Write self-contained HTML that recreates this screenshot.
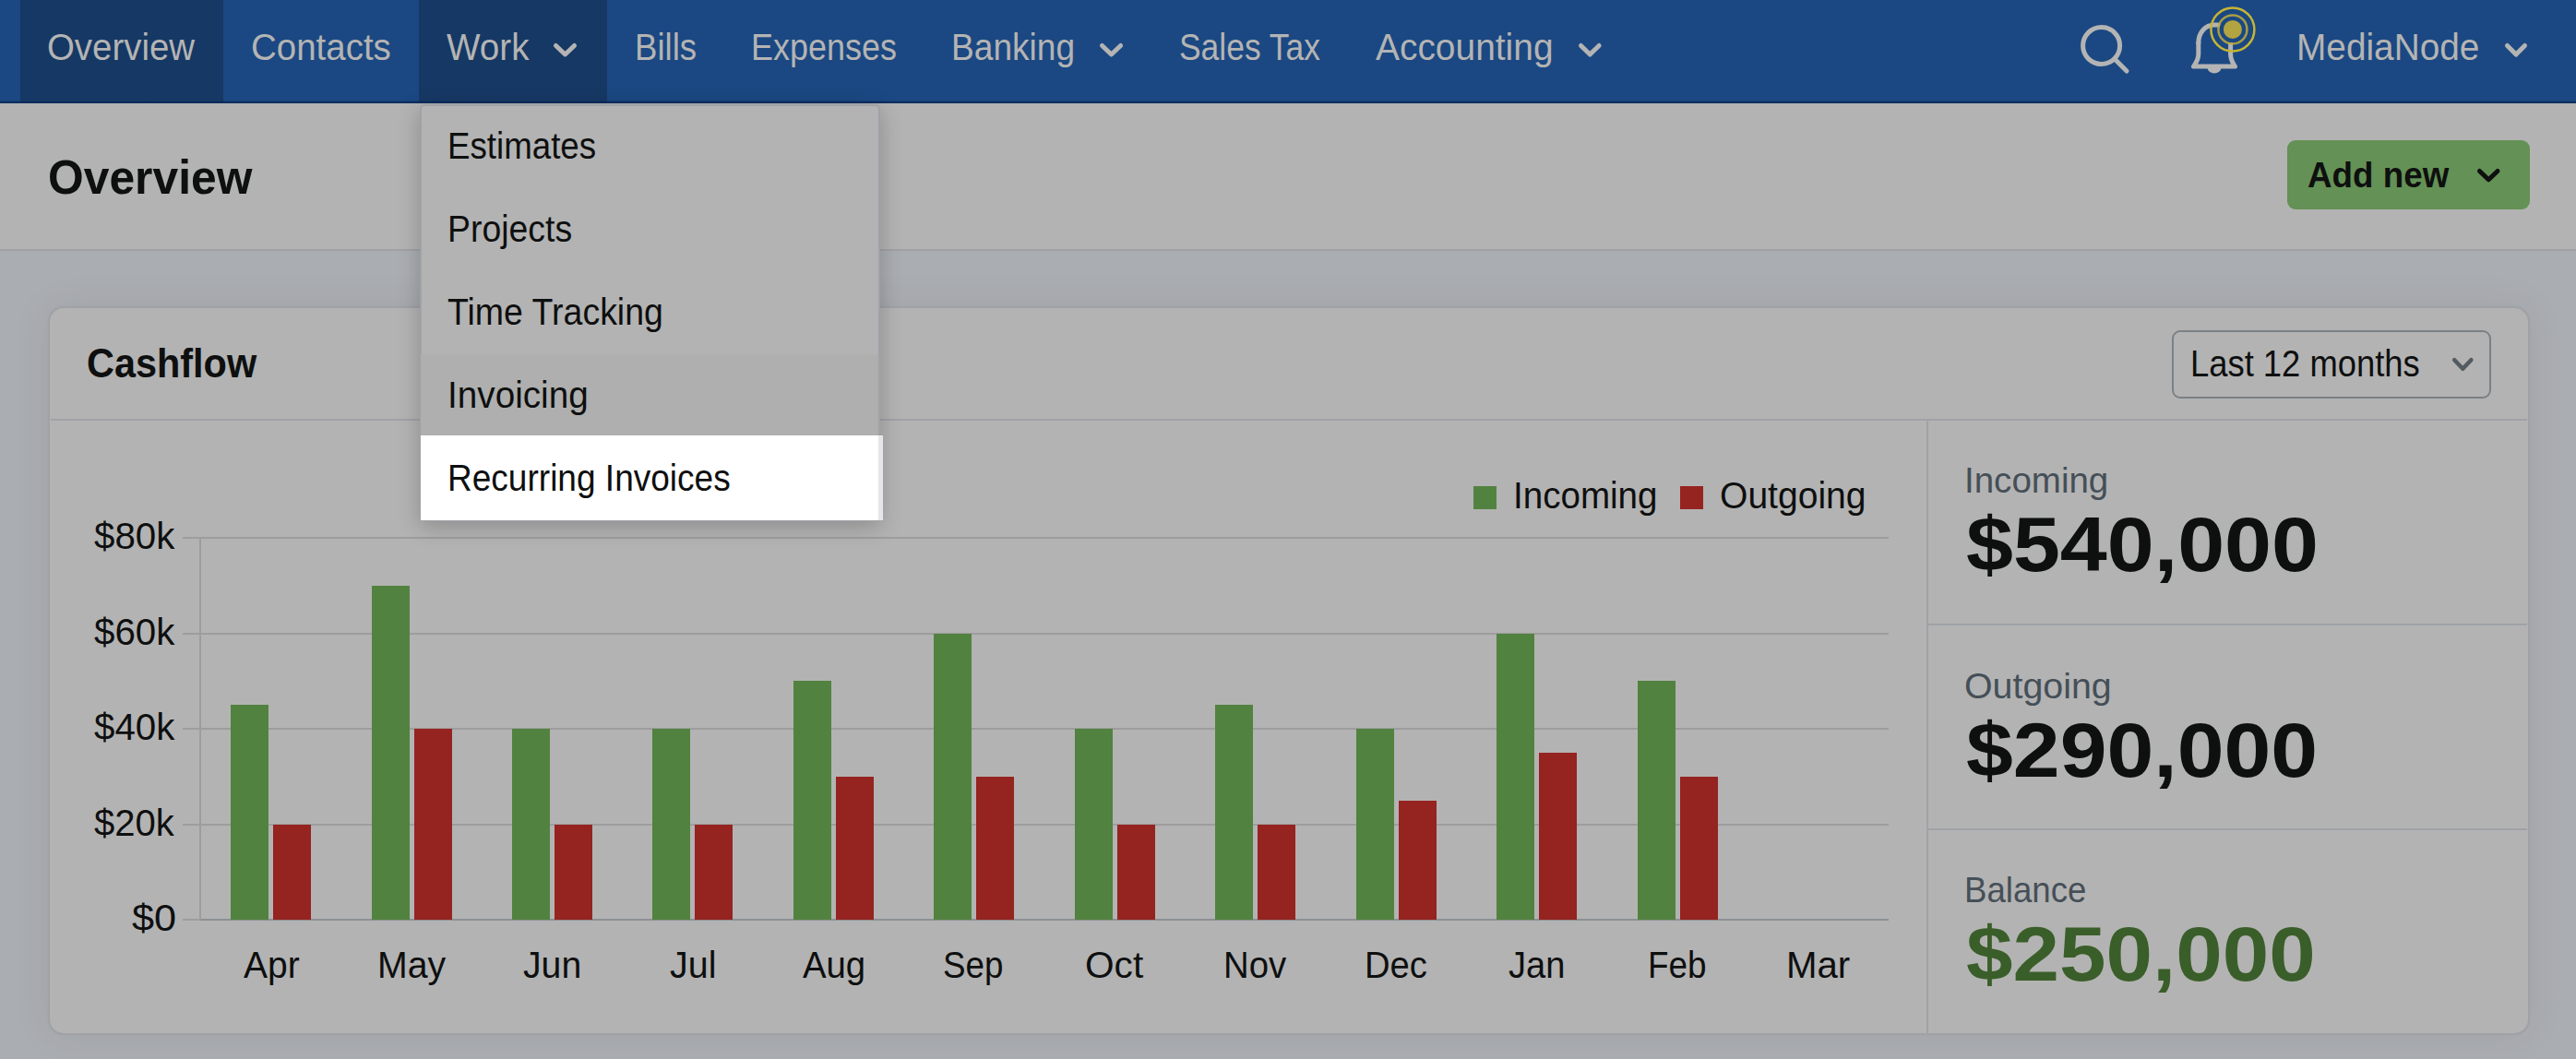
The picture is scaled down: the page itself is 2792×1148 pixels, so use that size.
<!DOCTYPE html>
<html><head><meta charset="utf-8"><title>Overview</title>
<style>
html,body{margin:0;padding:0}
body{width:2792px;height:1148px;overflow:hidden;position:relative;background:#aaadb2;font-family:'Liberation Sans',Arial,sans-serif}
.t{position:absolute;white-space:nowrap;transform-origin:0 0}
.abs{position:absolute}
</style></head><body>
<!-- nav -->
<div class="abs" style="left:0;top:0;width:2792px;height:112px;background:#1b4882"></div>
<div class="abs" style="left:22px;top:0;width:220px;height:112px;background:#163864"></div>
<div class="abs" style="left:454px;top:0;width:204px;height:112px;background:#163864"></div>
<div class="abs" style="left:0;top:108.5px;width:2792px;height:3.5px;background:linear-gradient(rgba(8,40,90,0) 0%,rgba(8,40,90,0.75) 45%,#082a5c 100%)"></div>
<!-- header -->
<div class="abs" style="left:0;top:112px;width:2792px;height:158px;background:#b3b3b3"></div>
<div class="abs" style="left:0;top:270px;width:2792px;height:2px;background:#a0a1a3"></div>
<div class="abs" style="left:2479px;top:152px;width:263px;height:75px;border-radius:9px;background:#649155"></div>
<!-- card -->
<div class="abs" style="left:52px;top:332.4px;width:2686px;height:785.2px;border:2px solid #a0a2a6;border-radius:17px;background:#b3b3b3;box-shadow:0 0 2px rgba(0,0,0,0.04),0 0 44px 2px rgba(0,0,0,0.055)"></div>
<div class="abs" style="left:55px;top:454px;width:2684px;height:2px;background:#a0a2a6"></div>
<div class="abs" style="left:2088px;top:455px;width:2px;height:665px;background:#a0a2a6"></div>
<div class="abs" style="left:2089px;top:676px;width:650px;height:2px;background:#a0a2a6"></div>
<div class="abs" style="left:2089px;top:898px;width:650px;height:2px;background:#a0a2a6"></div>
<div class="abs" style="left:2353.5px;top:357.5px;width:342px;height:70px;border:2px solid #7a8186;border-radius:9px"></div>
<!-- chart -->
<div style="position:absolute;left:197.5px;top:582.0px;width:1849.0px;height:2px;background:#9d9d9d"></div><div style="position:absolute;left:197.5px;top:685.5px;width:1849.0px;height:2px;background:#9d9d9d"></div><div style="position:absolute;left:197.5px;top:789.0px;width:1849.0px;height:2px;background:#9d9d9d"></div><div style="position:absolute;left:197.5px;top:892.5px;width:1849.0px;height:2px;background:#9d9d9d"></div><div style="position:absolute;left:197.5px;top:996px;width:19px;height:2px;background:#9d9d9d"></div><div style="position:absolute;left:216.5px;top:996px;width:1830.0px;height:2px;background:#8d9093"></div><div style="position:absolute;left:216.2px;top:582px;width:2px;height:415px;background:#9d9d9d"></div>
<div style="position:absolute;left:250.0px;top:764.1px;width:41px;height:232.9px;background:#52823f"></div><div style="position:absolute;left:296.0px;top:893.5px;width:41px;height:103.5px;background:#952320"></div><div style="position:absolute;left:402.5px;top:634.8px;width:41px;height:362.2px;background:#52823f"></div><div style="position:absolute;left:448.5px;top:790.0px;width:41px;height:207.0px;background:#952320"></div><div style="position:absolute;left:554.9px;top:790.0px;width:41px;height:207.0px;background:#52823f"></div><div style="position:absolute;left:600.9px;top:893.5px;width:41px;height:103.5px;background:#952320"></div><div style="position:absolute;left:707.4px;top:790.0px;width:41px;height:207.0px;background:#52823f"></div><div style="position:absolute;left:753.4px;top:893.5px;width:41px;height:103.5px;background:#952320"></div><div style="position:absolute;left:859.9px;top:738.2px;width:41px;height:258.8px;background:#52823f"></div><div style="position:absolute;left:905.9px;top:841.8px;width:41px;height:155.2px;background:#952320"></div><div style="position:absolute;left:1012.4px;top:686.5px;width:41px;height:310.5px;background:#52823f"></div><div style="position:absolute;left:1058.3px;top:841.8px;width:41px;height:155.2px;background:#952320"></div><div style="position:absolute;left:1164.8px;top:790.0px;width:41px;height:207.0px;background:#52823f"></div><div style="position:absolute;left:1210.8px;top:893.5px;width:41px;height:103.5px;background:#952320"></div><div style="position:absolute;left:1317.3px;top:764.1px;width:41px;height:232.9px;background:#52823f"></div><div style="position:absolute;left:1363.3px;top:893.5px;width:41px;height:103.5px;background:#952320"></div><div style="position:absolute;left:1469.8px;top:790.0px;width:41px;height:207.0px;background:#52823f"></div><div style="position:absolute;left:1515.8px;top:867.6px;width:41px;height:129.4px;background:#952320"></div><div style="position:absolute;left:1622.2px;top:686.5px;width:41px;height:310.5px;background:#52823f"></div><div style="position:absolute;left:1668.2px;top:815.9px;width:41px;height:181.1px;background:#952320"></div><div style="position:absolute;left:1774.7px;top:738.2px;width:41px;height:258.8px;background:#52823f"></div><div style="position:absolute;left:1820.7px;top:841.8px;width:41px;height:155.2px;background:#952320"></div>
<div class="abs" style="left:1597px;top:527px;width:25px;height:25px;background:#52823f"></div>
<div class="abs" style="left:1820.5px;top:527px;width:25px;height:25px;background:#952320"></div>
<!-- dropdown -->
<div class="abs" style="left:454.5px;top:113px;width:495.1px;height:448px;border:2px solid #a0a2a7;border-radius:5px;background:#b3b3b3;box-shadow:0 6px 24px rgba(0,0,0,0.22)"></div>
<div class="abs" style="left:456px;top:384px;width:496px;height:88px;background:#aeafae"></div>
<div class="abs" style="left:456px;top:472px;width:501px;height:92px;background:#e5e6ea"></div>
<div class="abs" style="left:456px;top:472px;width:495.6px;height:92px;background:#ffffff"></div>
<!-- icons -->
<svg class="abs" style="left:0;top:0" width="2792" height="112">
 <circle cx="2277.6" cy="49.5" r="20" fill="none" stroke="#b4b4b4" stroke-width="5"/>
 <line x1="2292" y1="64" x2="2305" y2="77" stroke="#b4b4b4" stroke-width="5" stroke-linecap="round"/>
 <path d="M2382.8 46.5 C2382.8 35 2390.5 27.1 2400 27.1 L2403.8 27.1" fill="none" stroke="#b4b4b4" stroke-width="5" stroke-linecap="round"/>
 <path d="M2382.8 45 L2382.8 59 C2382.8 64 2380 68.5 2377.5 72.1 L2422.5 72.1 C2420 68.5 2417.6 64 2417.6 59 L2417.6 46.3" fill="none" stroke="#b4b4b4" stroke-width="5" stroke-linejoin="round"/>
 <path d="M2392.7 74 A7.3 5.4 0 0 0 2407.3 74 Z" fill="#b4b4b4"/>
 <circle cx="2419.9" cy="31.9" r="10" fill="#b2a441"/>
 <circle cx="2419.9" cy="31.9" r="15.5" fill="none" stroke="#bfad3c" stroke-opacity="0.85" stroke-width="2.5"/>
 <circle cx="2419.9" cy="31.9" r="23.5" fill="none" stroke="#c6b435" stroke-width="2.5"/>
</svg>
<svg style="position:absolute;left:600.4px;top:47.2px;overflow:visible" width="25.0" height="14.5"><polyline points="2.5,2.5 12.5,12.0 22.5,2.5" fill="none" stroke="#b4b4b4" stroke-width="5" stroke-linecap="round" stroke-linejoin="round"/></svg>
<svg style="position:absolute;left:1191.8px;top:47.2px;overflow:visible" width="25.100000000000136" height="14.5"><polyline points="2.5,2.5 12.550000000000068,12.0 22.600000000000136,2.5" fill="none" stroke="#b4b4b4" stroke-width="5" stroke-linecap="round" stroke-linejoin="round"/></svg>
<svg style="position:absolute;left:1711px;top:47.2px;overflow:visible" width="24.59999999999991" height="14.5"><polyline points="2.5,2.5 12.299999999999955,12.0 22.09999999999991,2.5" fill="none" stroke="#b4b4b4" stroke-width="5" stroke-linecap="round" stroke-linejoin="round"/></svg>
<svg style="position:absolute;left:2715px;top:47px;overflow:visible" width="24" height="14.600000000000001"><polyline points="2.5,2.5 12.0,12.100000000000001 21.5,2.5" fill="none" stroke="#b4b4b4" stroke-width="5" stroke-linecap="round" stroke-linejoin="round"/></svg>
<svg style="position:absolute;left:2685px;top:182.7px;overflow:visible" width="24.5" height="14.300000000000011"><polyline points="2.5,2.5 12.25,11.800000000000011 22.0,2.5" fill="none" stroke="#0e0f0f" stroke-width="5" stroke-linecap="round" stroke-linejoin="round"/></svg>
<svg style="position:absolute;left:2658px;top:387.6px;overflow:visible" width="22.59999999999991" height="14.0"><polyline points="2.25,2.25 11.299999999999955,11.75 20.34999999999991,2.25" fill="none" stroke="#535b61" stroke-width="4.5" stroke-linecap="round" stroke-linejoin="round"/></svg>
<!-- texts -->
<div class="t" style="left:51.18px;top:31.44px;font-size:40px;line-height:40px;font-weight:400;color:#b4b4b4;transform:scaleX(0.9600)">Overview</div>
<div class="t" style="left:271.98px;top:31.44px;font-size:40px;line-height:40px;font-weight:400;color:#b4b4b4;transform:scaleX(0.9617)">Contacts</div>
<div class="t" style="left:484.00px;top:31.44px;font-size:40px;line-height:40px;font-weight:400;color:#b4b4b4;transform:scaleX(0.9674)">Work</div>
<div class="t" style="left:687.66px;top:31.44px;font-size:40px;line-height:40px;font-weight:400;color:#b4b4b4;transform:scaleX(0.9145)">Bills</div>
<div class="t" style="left:814.00px;top:31.44px;font-size:40px;line-height:40px;font-weight:400;color:#b4b4b4;transform:scaleX(0.8988)">Expenses</div>
<div class="t" style="left:1030.52px;top:31.44px;font-size:40px;line-height:40px;font-weight:400;color:#b4b4b4;transform:scaleX(0.9281)">Banking</div>
<div class="t" style="left:1277.93px;top:31.44px;font-size:40px;line-height:40px;font-weight:400;color:#b4b4b4;transform:scaleX(0.8853)">Sales Tax</div>
<div class="t" style="left:1491.30px;top:31.44px;font-size:40px;line-height:40px;font-weight:400;color:#b4b4b4;transform:scaleX(0.9728)">Accounting</div>
<div class="t" style="left:2489.09px;top:31.44px;font-size:40px;line-height:40px;font-weight:400;color:#b4b4b4;transform:scaleX(0.9700)">MediaNode</div>
<div class="t" style="left:51.99px;top:165.78px;font-size:52px;line-height:52px;font-weight:700;color:#0e0f0f;transform:scaleX(0.9572)">Overview</div>
<div class="t" style="left:2501.03px;top:171.13px;font-size:38px;line-height:38px;font-weight:700;color:#0e0f0f;transform:scaleX(0.9682)">Add new</div>
<div class="t" style="left:485.35px;top:138.44px;font-size:40px;line-height:40px;font-weight:400;color:#0e0f0f;transform:scaleX(0.9175)">Estimates</div>
<div class="t" style="left:485.30px;top:227.94px;font-size:40px;line-height:40px;font-weight:400;color:#0e0f0f;transform:scaleX(0.9350)">Projects</div>
<div class="t" style="left:485.36px;top:318.34px;font-size:40px;line-height:40px;font-weight:400;color:#0e0f0f;transform:scaleX(0.9366)">Time Tracking</div>
<div class="t" style="left:484.63px;top:407.74px;font-size:40px;line-height:40px;font-weight:400;color:#0e0f0f;transform:scaleX(0.9675)">Invoicing</div>
<div class="t" style="left:485.42px;top:498.34px;font-size:40px;line-height:40px;font-weight:400;color:#0e0f0f;transform:scaleX(0.9260)">Recurring Invoices</div>
<div class="t" style="left:93.56px;top:370.81px;font-size:45px;line-height:45px;font-weight:700;color:#0e0f0f;transform:scaleX(0.9207)">Cashflow</div>
<div class="t" style="left:2373.87px;top:373.74px;font-size:40px;line-height:40px;font-weight:400;color:#0e0f0f;transform:scaleX(0.9093)">Last 12 months</div>
<div class="t" style="left:101.79px;top:561.14px;font-size:40px;line-height:40px;font-weight:400;color:#0e0f0f;transform:scaleX(1.0070)">$80k</div>
<div class="t" style="left:101.79px;top:664.64px;font-size:40px;line-height:40px;font-weight:400;color:#0e0f0f;transform:scaleX(1.0070)">$60k</div>
<div class="t" style="left:101.79px;top:768.14px;font-size:40px;line-height:40px;font-weight:400;color:#0e0f0f;transform:scaleX(1.0070)">$40k</div>
<div class="t" style="left:102.30px;top:871.64px;font-size:40px;line-height:40px;font-weight:400;color:#0e0f0f;transform:scaleX(1.0012)">$20k</div>
<div class="t" style="left:142.92px;top:975.14px;font-size:40px;line-height:40px;font-weight:400;color:#0e0f0f;transform:scaleX(1.0810)">$0</div>
<div class="t" style="left:263.70px;top:1025.54px;font-size:40px;line-height:40px;font-weight:400;color:#0e0f0f;transform:scaleX(0.9758)">Apr</div>
<div class="t" style="left:408.75px;top:1025.54px;font-size:40px;line-height:40px;font-weight:400;color:#0e0f0f;transform:scaleX(0.9819)">May</div>
<div class="t" style="left:567.02px;top:1025.54px;font-size:40px;line-height:40px;font-weight:400;color:#0e0f0f;transform:scaleX(0.9803)">Jun</div>
<div class="t" style="left:725.61px;top:1025.54px;font-size:40px;line-height:40px;font-weight:400;color:#0e0f0f;transform:scaleX(0.9854)">Jul</div>
<div class="t" style="left:869.80px;top:1025.54px;font-size:40px;line-height:40px;font-weight:400;color:#0e0f0f;transform:scaleX(0.9580)">Aug</div>
<div class="t" style="left:1022.36px;top:1025.54px;font-size:40px;line-height:40px;font-weight:400;color:#0e0f0f;transform:scaleX(0.9191)">Sep</div>
<div class="t" style="left:1175.67px;top:1025.54px;font-size:40px;line-height:40px;font-weight:400;color:#0e0f0f;transform:scaleX(1.0150)">Oct</div>
<div class="t" style="left:1325.62px;top:1025.54px;font-size:40px;line-height:40px;font-weight:400;color:#0e0f0f;transform:scaleX(0.9588)">Nov</div>
<div class="t" style="left:1479.14px;top:1025.54px;font-size:40px;line-height:40px;font-weight:400;color:#0e0f0f;transform:scaleX(0.9537)">Dec</div>
<div class="t" style="left:1635.05px;top:1025.54px;font-size:40px;line-height:40px;font-weight:400;color:#0e0f0f;transform:scaleX(0.9508)">Jan</div>
<div class="t" style="left:1786.23px;top:1025.54px;font-size:40px;line-height:40px;font-weight:400;color:#0e0f0f;transform:scaleX(0.9219)">Feb</div>
<div class="t" style="left:1935.99px;top:1025.54px;font-size:40px;line-height:40px;font-weight:400;color:#0e0f0f;transform:scaleX(1.0046)">Mar</div>
<div class="t" style="left:1639.54px;top:517.44px;font-size:40px;line-height:40px;font-weight:400;color:#0e0f0f;transform:scaleX(0.9641)">Incoming</div>
<div class="t" style="left:1863.75px;top:517.44px;font-size:40px;line-height:40px;font-weight:400;color:#0e0f0f;transform:scaleX(0.9766)">Outgoing</div>
<div class="t" style="left:2128.95px;top:500.89px;font-size:39px;line-height:39px;font-weight:400;color:#454f57;transform:scaleX(0.9875)">Incoming</div>
<div class="t" style="left:2131.00px;top:548.64px;font-size:83px;line-height:83px;font-weight:700;color:#0e0f0f;transform:scaleX(1.1032)">$540,000</div>
<div class="t" style="left:2128.58px;top:723.79px;font-size:39px;line-height:39px;font-weight:400;color:#454f57;transform:scaleX(1.0091)">Outgoing</div>
<div class="t" style="left:2130.90px;top:771.74px;font-size:83px;line-height:83px;font-weight:700;color:#0e0f0f;transform:scaleX(1.1009)">$290,000</div>
<div class="t" style="left:2129.18px;top:944.99px;font-size:39px;line-height:39px;font-weight:400;color:#454f57;transform:scaleX(0.9390)">Balance</div>
<div class="t" style="left:2130.91px;top:992.74px;font-size:83px;line-height:83px;font-weight:700;color:#3a5e29;transform:scaleX(1.0942)">$250,000</div>
<script>(function(){var s=window.innerWidth/2792;if(Math.abs(s-1)>0.01){document.body.style.zoom=s;}})();</script>
</body></html>
